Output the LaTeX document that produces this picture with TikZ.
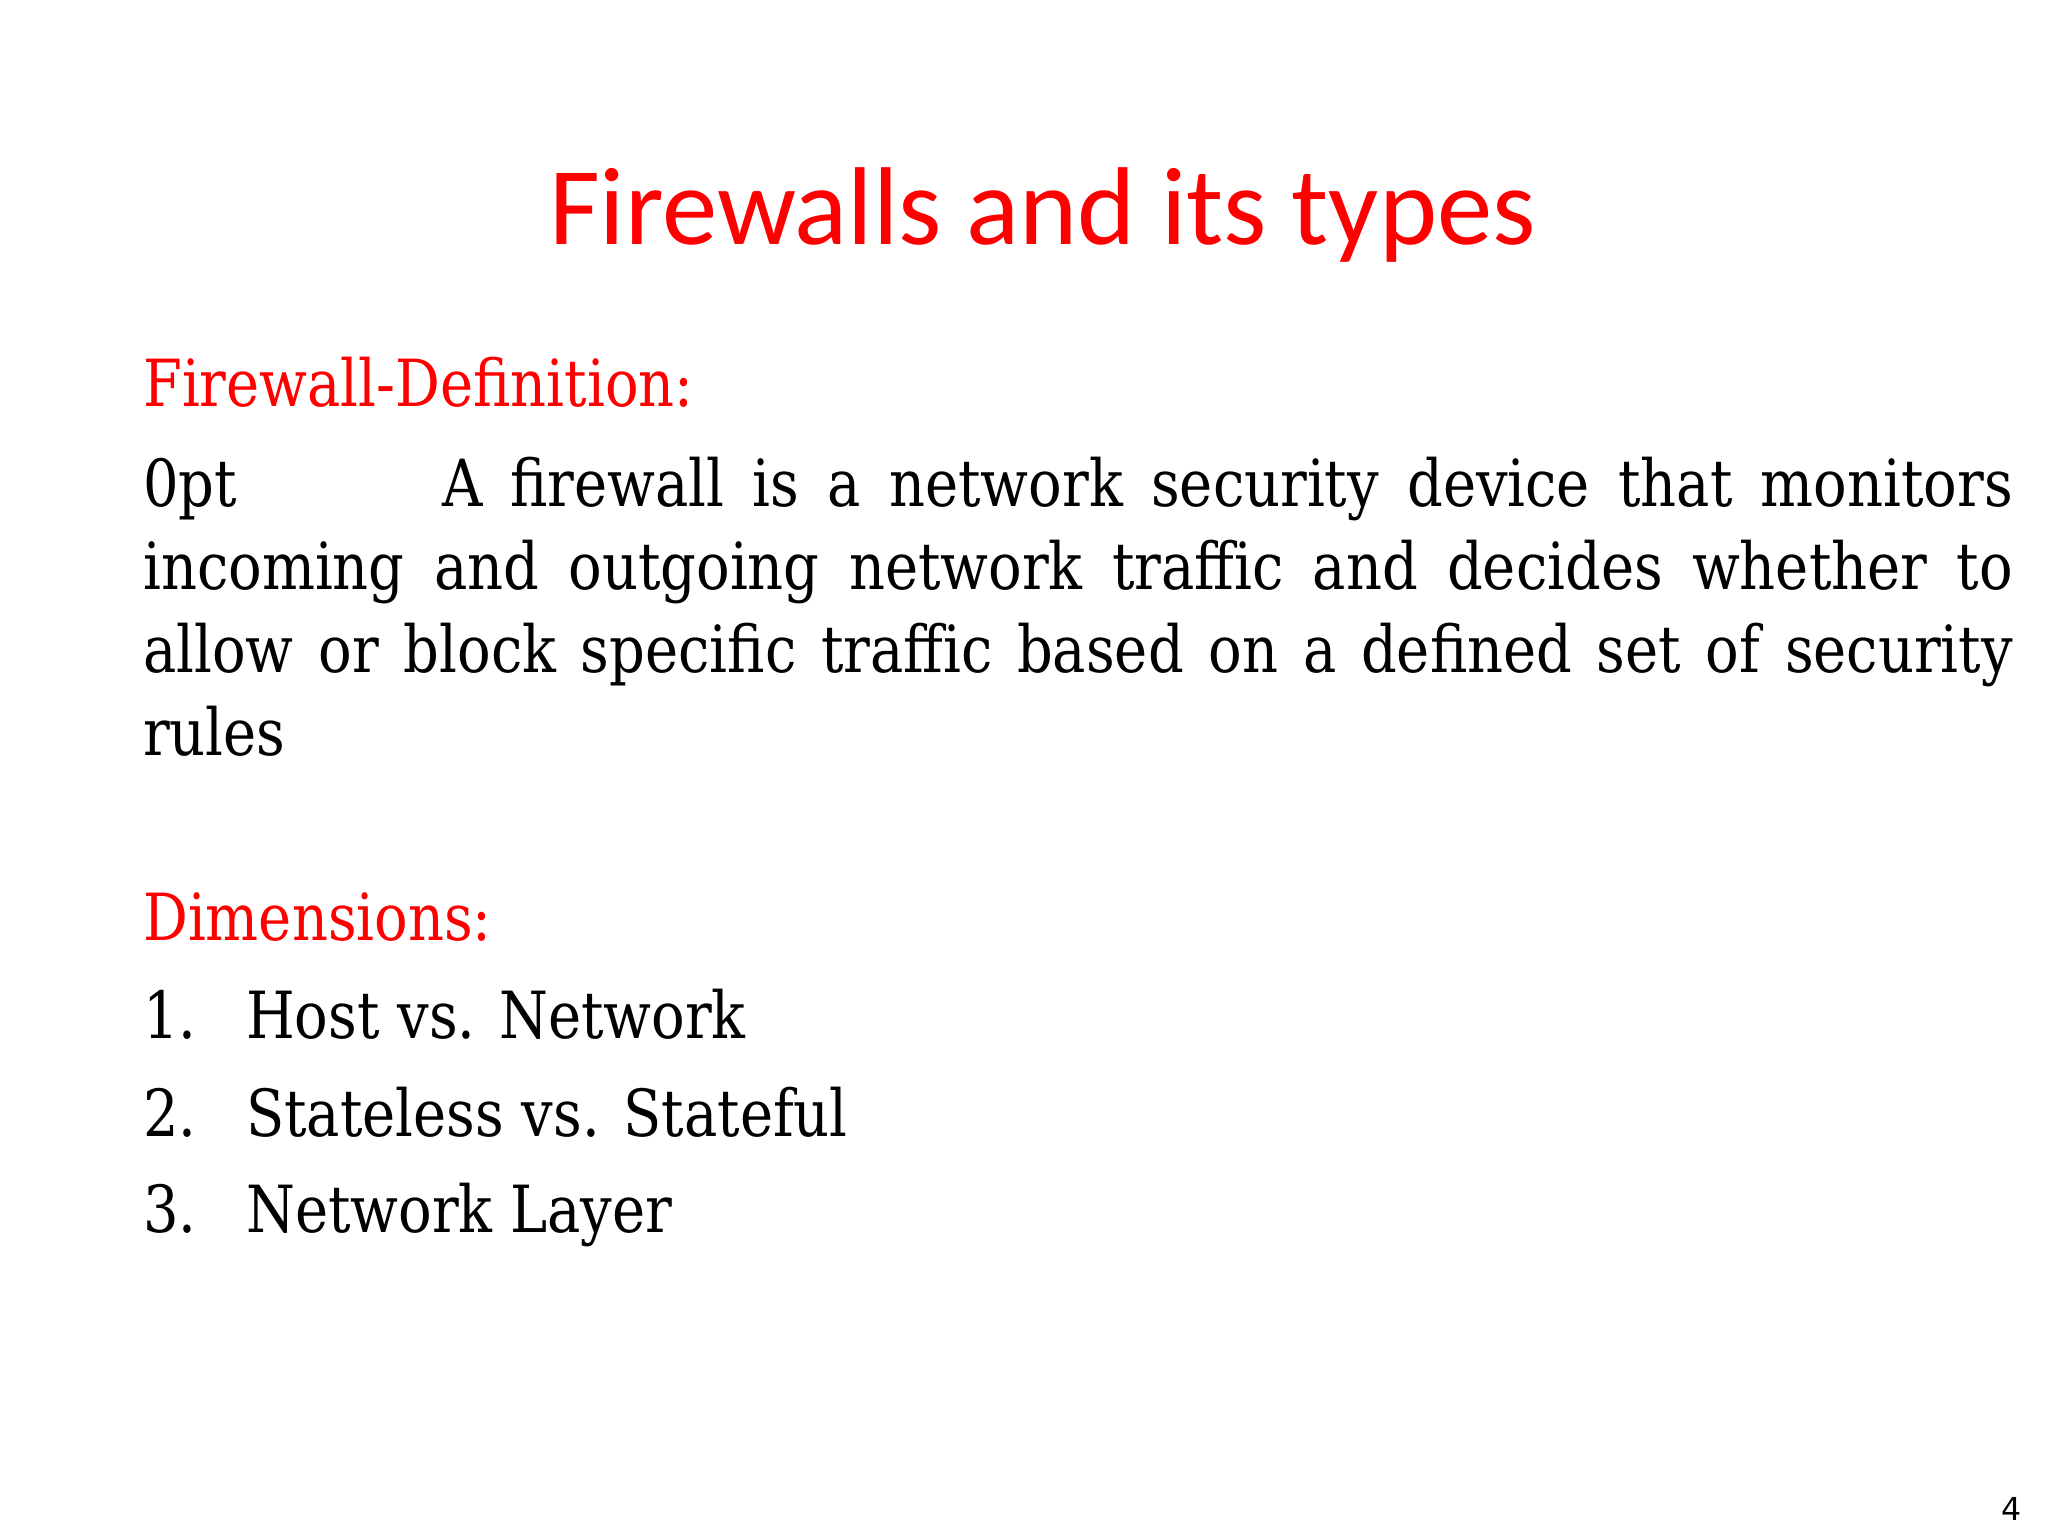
\documentclass[tikz,border=0pt]{standalone}
\usepackage{fontspec}
\setmainfont{DejaVu Serif}[FakeStretch=0.86]
\newfontfamily\titlefont{Carlito}
\newfontfamily\numfont{DejaVu Sans}
\definecolor{tred}{RGB}{255,0,0}
\begin{document}
\begin{tikzpicture}[x=0.013196cm,y=-0.013196cm,
  head/.style={anchor=base west,inner sep=0,text=tred,font=\fontsize{18.5}{23}\selectfont},
  body/.style={anchor=base west,inner sep=0,font=\fontsize{18.5}{23}\selectfont}]
\useasboundingbox (0,0) rectangle (1552,1164);
\node[anchor=base,inner sep=0,text=tred,font=\titlefont\fontsize{31.5}{38}\selectfont] (title) at (790,185) {Firewalls and its types};
\node[head] (defh) at (108,308) {Firewall-Definition:};
\node[anchor=north west,inner sep=0,text width=18.7cm,align=justify,font=\fontsize{18.5}{23.6}\selectfont\hyphenpenalty=10000] (para) at (108,346)
 {\hspace*{2.05cm}A firewall is a network security device that monitors\linebreak incoming and outgoing network traffic and decides whether to\linebreak allow or block specific traffic based on a defined set of security\linebreak rules};
\node[head] (dimh) at (108,713) {Dimensions:};
\node[body] (n1) at (108,787) {1.};
\node[body] (t1) at (186,787) {Host vs. Network};
\node[body] (n2) at (108,861) {2.};
\node[body] (t2) at (186,861) {Stateless vs. Stateful};
\node[body] (n3) at (108,934) {3.};
\node[body] (t3) at (186,934) {Network Layer};
\node[anchor=base,inner sep=0,font=\numfont\fontsize{9}{11}\selectfont] (pg) at (1524,1152) {4};
\end{tikzpicture}
\end{document}
